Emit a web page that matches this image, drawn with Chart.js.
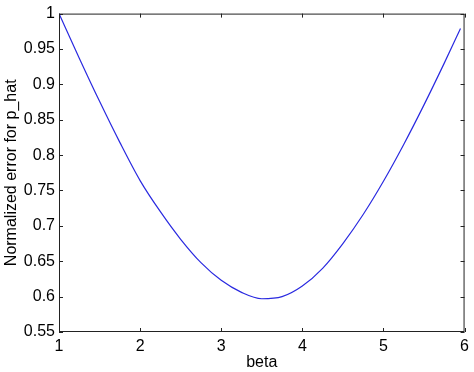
<!DOCTYPE html>
<html>
<head>
<meta charset="utf-8">
<script src="https://cdn.jsdelivr.net/npm/chart.js@4.4.0/dist/chart.umd.min.js"></script>
<style>
    html, body { margin: 0; padding: 0; background: #ffffff; }
    #wrap { width: 474px; height: 372px; }
</style>
</head>
<body>
<div id="wrap"><canvas id="errChart" width="474" height="372"></canvas></div>
<script>
// Normalized error vs beta
const betaValues = [1.00, 1.25, 1.50, 1.75, 2.00, 2.25, 2.50, 2.75, 3.00, 3.25,
                    3.50, 3.75, 4.00, 4.25, 4.50, 4.75, 5.00, 5.25, 5.50, 5.75, 5.95];
const errorValues = [1.000, 0.937, 0.876, 0.818, 0.764, 0.720, 0.681, 0.648, 0.623, 0.606,
                     0.597, 0.600, 0.615, 0.640, 0.675, 0.716, 0.763, 0.815, 0.871, 0.930, 0.979];

const xTickLabels = ['1', '2', '3', '4', '5', '6'];
const yTickLabels = ['0.55', '0.6', '0.65', '0.7', '0.75', '0.8', '0.85', '0.9', '0.95', '1'];

const FONT = "'Liberation Sans', Arial, Helvetica, sans-serif";

/**
 * MATLAB style box: frame around the plot area with inward ticks on all sides
 */
const boxTicks = {
    id: 'boxTicks',
    afterDraw(chart) {
        const { ctx, chartArea: a, scales } = chart;
        const len = 4;
        ctx.save();
        ctx.strokeStyle = '#222222';
        ctx.lineWidth = 1;
        ctx.strokeRect(a.left + 0.5, a.top + 0.5, a.right - a.left - 1, a.bottom - a.top - 1);
        ctx.beginPath();
        scales.x.ticks.forEach(t => {
            const px = Math.round(scales.x.getPixelForValue(t.value)) + 0.5;
            ctx.moveTo(px, a.bottom);
            ctx.lineTo(px, a.bottom - len);
            ctx.moveTo(px, a.top);
            ctx.lineTo(px, a.top + len);
        });
        scales.y.ticks.forEach(t => {
            const py = Math.round(scales.y.getPixelForValue(t.value)) + 0.5;
            ctx.moveTo(a.left, py);
            ctx.lineTo(a.left + len, py);
            ctx.moveTo(a.right, py);
            ctx.lineTo(a.right - len, py);
        });
        ctx.stroke();
        ctx.restore();
    }
};

function initializeChart() {
    const ctx = document.getElementById('errChart');

    new Chart(ctx, {
        type: 'line',
        data: {
            datasets: [{
                label: 'error',
                data: betaValues.map((b, i) => ({ x: b, y: errorValues[i] })),
                borderColor: '#2a2ae0',
                borderWidth: 1.2,
                pointRadius: 0,
                cubicInterpolationMode: 'monotone',
                fill: false
            }]
        },
        options: {
            responsive: false,
            animation: false,
            devicePixelRatio: 1,
            layout: {
                padding: { top: 12, right: 8, left: 0, bottom: 0 }
            },
            plugins: {
                legend: { display: false },
                tooltip: { enabled: false }
            },
            scales: {
                x: {
                    type: 'linear',
                    min: 1,
                    max: 6,
                    afterBuildTicks(scale) {
                        scale.ticks = xTickLabels.map(v => ({ value: parseFloat(v) }));
                    },
                    afterFit(scale) { scale.height = 40; },
                    grid: { display: false, drawTicks: false },
                    border: { display: false },
                    ticks: {
                        color: '#000000',
                        padding: 5,
                        maxRotation: 0,
                        font: { family: FONT, size: 16 },
                        callback: (value) => xTickLabels.find(l => parseFloat(l) === value)
                    },
                    title: {
                        display: true,
                        text: 'beta',
                        color: '#000000',
                        padding: { top: 0, bottom: 0 },
                        font: { family: FONT, size: 16 }
                    }
                },
                y: {
                    type: 'linear',
                    min: 0.55,
                    max: 1,
                    afterBuildTicks(scale) {
                        scale.ticks = yTickLabels.map(v => ({ value: parseFloat(v) }));
                    },
                    afterFit(scale) { scale.width = 59; },
                    grid: { display: false, drawTicks: false },
                    border: { display: false },
                    ticks: {
                        color: '#000000',
                        padding: 4,
                        font: { family: FONT, size: 16 },
                        callback: (value) => yTickLabels.find(l => Math.abs(parseFloat(l) - value) < 1e-9)
                    },
                    title: {
                        display: true,
                        text: 'Normalized error for p_hat',
                        color: '#000000',
                        padding: { top: 2, bottom: 0 },
                        font: { family: FONT, size: 16 }
                    }
                }
            }
        },
        plugins: [boxTicks]
    });
}

initializeChart();
</script>
</body>
</html>
